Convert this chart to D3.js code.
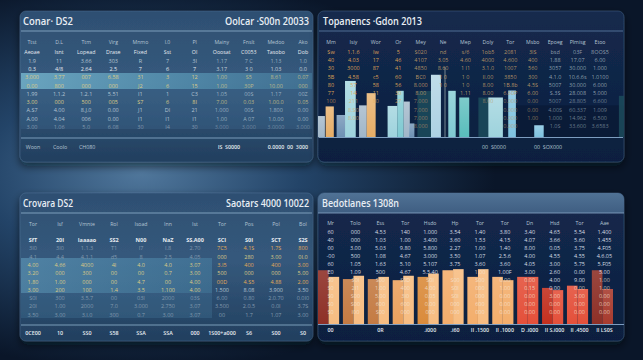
<!DOCTYPE html>
<html>
<head>
<meta charset="utf-8">
<script src="https://cdn.jsdelivr.net/npm/d3@7"></script>
<style>
  html, body { margin: 0; padding: 0; background: #0c1a30; }
  svg { display: block; }
</style>
</head>
<body>
<div id="chart"></div>
<script>
// Dashboard of four panels: two tables and two bar charts

const width = 643
const height = 360

// ---- panel 1 : table ----
const p1Title = 'Conar· DS2'
const p1Side = 'Oolcar ·S00n 20033'
const p1Head1 = ['Ttst', 'D.L', 'Ttm', 'Virg', 'Mnmo', 'l.0', 'Pl', 'Mainy', 'Fnslt', 'Medoo', 'Ako']
const p1Head2 = ['Aeoae', 'Isnt', 'Lopead', 'Drase', 'Fixed', 'Sst', 'Ol', 'Ooosat', 'C0053', 'Tasobo', 'Dob']
const p1Rows = [
  ['1.9', '11', '3.66', '303', 'R', '7', '3I', '1.17', '7 C', '1.13', '1.0'],
  ['0.3', '4/8', '2.64', '2.5', '7', '6', '7', '3.17', '3 0', '1.03', '0.0'],
  ['3.000', '3.77', '007', '6.58', '31', '3', '12', '1.00', 'S5', '8.61', '0.07'],
  ['0.00', '800', '000', '000', 'J2', '6', '15', '1.00', '30P', '10.00', '000'],
  ['1.99', '1.1.2', '1.2.1', '5.51', 'I1', '1', 'C3', '1.05', '00S', '1.17', '00Z'],
  ['3.00', '000', '500', '005', 'S7', '6', '8I', '7.00', '0.03', '1.00.0', '0.05'],
  ['A.S7', '4.00', '8.J.0', '0.00', 'J1', 'Dl', '21', '1.000', '00S', '1.800', '0.00'],
  ['A.00', '4.04', '006', '0.00', 'I1', 'I1', 'I1', '1.00', 'A 07', '1.0.00', '0.00'],
  ['3.00', '1.06', '5.0', '6.08', '30', 'I4', '30', '3.000', '3.000', '3.0000', '3.000']
]
const p1Tones = ['soft', 'bright', 'gold', 'gold', 'soft', 'gold', 'soft', 'soft', 'dim']
const p1FootLeft = ['Woon', 'Coolo', 'CH080']
const p1FootRight = ['lS  S0000', '0.0000  00  3000']

// ---- panel 2 : bars behind a table ----
const p2Title = 'Topanencs ·Gdon 2013'
const p2Head = ['Mm', 'Isiy', 'Wor', 'Or', 'Mey', 'Ne', 'Mep', 'Doly', 'Tor', 'Msbo', 'Epoeg', 'Plmisg', 'Etoo']
const p2Rows = [
  ['Sw', '1.1.6', 'Iw', '5', 'S020', 'nd', 's/6', '1ob5', '2081', '3IS', 'bsd', '03F', '8OOS5'],
  ['40', '4.03', '17', '46', '4107', '3.05', '4.60', '4000', '4.600', '400', '1.88', '17.07', '6.00'],
  ['30', '3000', '87', '41', '4850', '8.60', '1 l1', '3.1.0', '1007', '560', '3057', '30.000', '1.000'],
  ['5B', '4.58', 'c5', '60', 'BC0', '1 0', '1 0', 'II.00', '3850', '300', '4.1.0', '10.6.6s', '1.0100'],
  ['80', '57', '58', '56', '8.000', '1 0', '1 0', '8.00', '1B.8b', '4.5S', '5007', '30.000', '6.000'],
  ['77', '14', '11', '30', '8.00', '', '1.11', '8.00', '6.60P', '6.00', 'S.3S', '28.008', '5.000'],
  ['100', '211', '80', '27', '7.000', '', '', '8.00', '0.000', '0.00', '5007', '28.805', '6.600'],
  ['', '8.S0', '', '', '7.000', '', '', '', '0.000', '0.00', '4.00S', '60.337', '1.009'],
  ['', '8.00', '', '', '7.000', '', '', '', '0.000', '1.00', '1.000', '14.962', '6.500'],
  ['', '', '', '', '8.000', '', '', '', '0.000', '', '1.0S', '33.600', '3.6583']
]
const p2ColTones = ['orange', 'orange', 'orange', 'orange', 'amber', 'amber', 'amber', 'amber', 'amber', 'amber', 'grey', 'grey', 'grey']
// bars: span on a 0..120 track, value on 0..100
const p2Bars = [
  { from: 0, to: 2.7, value: 20, tone: 'mist' },
  { from: 3.0, to: 6.2, value: 29, tone: 'amber' },
  { from: 7.3, to: 10.6, value: 21, tone: 'steel' },
  { from: 10.6, to: 14.8, value: 53, tone: 'ice' },
  { from: 16.1, to: 19.1, value: 30, tone: 'mist' },
  { from: 19.1, to: 22.6, value: 41.5, tone: 'amber' },
  { from: 27.3, to: 31.1, value: 29.5, tone: 'ice' },
  { from: 31.1, to: 33.6, value: 43.7, tone: 'aqua' },
  { from: 33.6, to: 36.0, value: 33.6, tone: 'mist' },
  { from: 35.7, to: 37.8, value: 13, tone: 'steel' },
  { from: 39.0, to: 44.6, value: 43.7, tone: 'shade' },
  { from: 44.3, to: 48.2, value: 58.8, tone: 'frost' },
  { from: 49.5, to: 50.1, value: 66, tone: 'rod' },
  { from: 51.1, to: 54.0, value: 43.7, tone: 'aqua' },
  { from: 55.4, to: 59.3, value: 37.4, tone: 'teal' },
  { from: 62.9, to: 66.8, value: 37.4, tone: 'shade' },
  { from: 66.8, to: 72.5, value: 37.4, tone: 'ice' },
  { from: 74.6, to: 77.6, value: 44, tone: 'sky' },
  { from: 84.8, to: 88.5, value: 11.3, tone: 'sky' },
  { from: 118, to: 120, value: 39, tone: 'shade' }
]
const p2Foot = ['00  S0000', '00  SOX000']

// ---- panel 3 : table ----
const p3Title = 'Crovara DS2'
const p3Side = 'Saotars 4000 10022'
const p3Head = ['Tor', 'Isf', 'Vmnte', 'Rol', 'Isoad', 'Inn', 'Ist', 'Tor', 'Pos', 'Pol', 'Bol']
const p3Rows = [
  ['SfT', '20I', 'Iaaaao', 'SS2', 'N00', 'NaZ', 'SS.A00', 'SCI', 'S0I', 'SCT', 'S2S'],
  ['3I0', '3I0', '1.1.3', 'T1', 'I7', 'I.8', '2.70', '7C5', '4.1S', '1.7S', '800'],
  ['4.1', '4.4', '4.1.1', 'd5', '8', '2.5', '4.05', '000', '280', '3.00', '0I.0'],
  ['4.00', '4.66', '4000', '4I', '4.0', '4.0', '3.07', '3.I5', '400', '400', '3.00'],
  ['3.20', '000', '300', '00', '00', '0.7', '3.00', '500', '000', '000', '5.00'],
  ['1.80', '1.00', '000', '00', '4.7', '00', '4.00', '00D', '4.S5', '4.88', '2.00'],
  ['3.00', '200', '100', '1.4', '3.5', '1.100', '4.00', '1.500', '8.08', '3.900', '3.50'],
  ['S0I', '300', '3.5.7', '00', '03I', '2000', '03S', '6.00', '0.80', '2.0.70', '0.0I0'],
  ['20I', '1.00', '2000', '7.0', '3.000', '2.750', '3.07', '3.500', '2.0.5', '0.0I', '3.7S'],
  ['3.50', '3.00', '3.I.0', '300', '0.7', '3.00', '3.07', '00', '1.7', '1.07', '3.00']
]
const p3LeftTones = ['bright', 'dim', 'dim', 'gold', 'gold', 'gold', 'gold', 'dim', 'dim', 'dim']
const p3RightTones = ['bright', 'orange', 'gold', 'orange', 'gold', 'orange', 'soft', 'dim', 'dim', 'dim']
const p3Foot = ['0CE00', '10', 'SS0', 'S58', 'SSA', 'SSA', '000', '1S00+a000', 'S6', 'S00', 'S0']

// ---- panel 4 : grouped bars behind a table ----
const p4Title = 'Bedotlanes 1308n'
const p4Head = ['Mr', 'Tolo', 'Ess', 'Tor', 'Hsdo', 'Hp', 'Tor', 'Tor', 'Dn', 'Hsd', 'Tor', 'Aae']
const p4Rows = [
  ['60', '000', '4.53', '140', '1.000', '3.54', '1.40', '3.80', '3.40', '4.65', '5.54', '1.400'],
  ['40', '000', '1.03', '1.00', '3.400', '3.60', '1.53', '4.15', '4.07', '3.66', '5.60', '1.455'],
  ['00', '3.00', '5.03', '9.80', '5.800', '2.27', '1.00', '1.40', '8.00', '0.05', '3.75', '4.F05'],
  ['-00', '500', '1.08', '4.67', '3.000', '3.50', '1.07', '2.5.6', '4.00', '4.55', '4.55', '4.6.05'],
  ['60', '1.05', '1.63', '5.10', '5.107', '3.75', '3.60', '3.60', '4.05', '3.00', '5.75', '5.F05'],
  ['E0', '1.09', '500', '4.67', '5.5.40', '', '1.00', '1.00F', '3.00', '2.60', '0.00', '5.00'],
  ['S0', 'S0I', 'S00', 'S0D', 'S0I', 'S00', 'S00', '0.00', '0.00', '4.00', '9.00', '1.00'],
  ['S0', '2I1', '1.00', '400', '4.00', 'S0I', '000', '1.00', '0.15', '0.00', '0.00', '1.00'],
  ['S0', 'S00', '5.00', '3I0', '0.05', 'S0I', '000', '0.00', '0.00', '3.00', '3.00', '0.00'],
  ['S0', 'S00', '600', '600', '0.00', '000', '600', '0.00', '0.00', '0.00', '0.00', '0.00'],
  ['S0', 'I00', 'S00', '000', '000', '000', '000', '0.00', '0.00', '0.00', '0.00', '0.00']
]
const p4Foot = ['00', '', '0R', '', '.i000', '.i60', 'II .1500', 'II .1000', 'D .i000', 'II S.i000', 'II .4500', 'II LS0S']
const p4Left = [49, 41, 41, 40, 43, 49, 43, 43, 43, 33, 35, 49]
const p4Right = [43, 44, 43, 44, 46, 50, 50, 40, 43, 31, 32, 32]
const p4LeftTone = ['maroon', 'tan', 'tan', 'apricot', 'ochre', 'salmon', 'salmon', 'salmon', 'red', 'crimson', 'red', 'maroon']
const p4RightTone = ['peach', 'peach', 'peach', 'peach', 'peach', 'peach', 'peach', 'salmon', 'red', 'red', 'red', 'brick']

// colours
const textColors = {
  bright: '#e6ebf0', soft: '#b4c4d3', gold: '#dccb86', dim: '#8299ae',
  orange: '#e2ab58', amber: '#bf9a68', grey: '#98a7b6', over: '#f4e8dc'
}
const barColors = {
  mist: '#a9bfd0', amber: '#f2b568', steel: '#7398ba', ice: '#a6dde6', aqua: '#86d4da',
  teal: '#5ec6c3', shade: '#1c4b5c', frost: '#b6dcec', sky: '#85cbe9', rod: '#56687a',
  maroon: '#8e3027', peach: '#f7bd82', tan: '#c47b43', apricot: '#eaa25f', ochre: '#da8b3b',
  salmon: '#f3ae6c', red: '#e4503a', crimson: '#c3301f', brick: '#a73b2e'
}

const svg = d3.select('#chart')
  .append('svg')
  .attr('width', width)
  .attr('height', height)
  .style('font-family', '"Open Sans", "DejaVu Sans", sans-serif')

const defs = svg.append('defs')

// background
const bgGlow = defs.append('radialGradient').attr('id', 'glow')
  .attr('cx', 0.22).attr('cy', 0.48).attr('r', 0.55)
bgGlow.append('stop').attr('offset', '0%').attr('stop-color', '#50779c')
bgGlow.append('stop').attr('offset', '45%').attr('stop-color', '#234468')
bgGlow.append('stop').attr('offset', '100%').attr('stop-color', '#0a1629')

svg.append('rect').attr('width', width).attr('height', height).attr('fill', 'url(#glow)')

const shadow = defs.append('filter').attr('id', 'shadow')
  .attr('x', -0.1).attr('y', -0.1).attr('width', 1.2).attr('height', 1.3)
shadow.append('feDropShadow').attr('dx', 0).attr('dy', 4).attr('stdDeviation', 4)
  .attr('flood-color', '#020712').attr('flood-opacity', 0.6)

function vGrad(id, stops) {
  const g = defs.append('linearGradient').attr('id', id)
    .attr('x1', 0).attr('x2', 0).attr('y1', 0).attr('y2', 1)
  stops.forEach(s => g.append('stop').attr('offset', s[0]).attr('stop-color', s[1]).attr('stop-opacity', s[2] == null ? 1 : s[2]))
}
function hGrad(id, stops) {
  const g = defs.append('linearGradient').attr('id', id)
    .attr('x1', 0).attr('x2', 1).attr('y1', 0).attr('y2', 0)
  stops.forEach(s => g.append('stop').attr('offset', s[0]).attr('stop-color', s[1]).attr('stop-opacity', s[2] == null ? 1 : s[2]))
}

vGrad('lightPanel', [['0%', '#2e4f72'], ['45%', '#35597c'], ['100%', '#223f5f']])
vGrad('darkPanel', [['0%', '#142a4d'], ['100%', '#0c1f3f']])
vGrad('p4Header', [['0%', '#507295'], ['100%', '#3f5e82']])
hGrad('band', [['0%', '#77b8d0', 0.8], ['60%', '#5c9dbb', 0.65], ['100%', '#4d88a8', 0.5]])
hGrad('band3', [['0%', '#5a93b4', 0.7], ['100%', '#4b86a9', 0.5]])
vGrad('barSheen', [['0%', '#ffffff', 0.22], ['100%', '#ffffff', 0]])

function panel(x, y, w, h, fill) {
  const g = svg.append('g')
  g.append('rect').attr('x', x).attr('y', y).attr('width', w).attr('height', h)
    .attr('rx', 6).attr('fill', fill).attr('filter', 'url(#shadow)')
    .attr('stroke', '#5b7ea3').attr('stroke-opacity', 0.35)
  return g
}

// titles squeezed to the width they take in the picture
function titleText(g, x, y, txt, len, anchor) {
  g.append('text').attr('x', x).attr('y', y).attr('text-anchor', anchor || 'start')
    .attr('font-size', 11).attr('font-weight', 600).attr('fill', '#e9eef4')
    .attr('textLength', len).attr('lengthAdjust', 'spacingAndGlyphs')
    .text(txt)
}

function cellText(g, x, y, txt, color, size, weight, opacity) {
  g.append('text').attr('x', x).attr('y', y).attr('text-anchor', 'middle')
    .attr('font-size', size || 5.5).attr('font-weight', weight || 500)
    .attr('fill', color).attr('fill-opacity', opacity == null ? 1 : opacity)
    .text(txt)
}

// ================= panel 1 =================
const g1 = panel(20, 11, 293, 151, 'url(#lightPanel)')
g1.append('rect').attr('x', 21).attr('y', 73).attr('width', 291).attr('height', 16).attr('fill', 'url(#band)')
g1.append('rect').attr('x', 21).attr('y', 89).attr('width', 291).attr('height', 40).attr('fill', '#4878a0').attr('opacity', 0.25)
g1.append('line').attr('x1', 21).attr('x2', 312).attr('y1', 31).attr('y2', 31).attr('stroke', '#8fb2cf').attr('stroke-width', 0.8)
g1.append('line').attr('x1', 21).attr('x2', 312).attr('y1', 138).attr('y2', 138).attr('stroke', '#8fb2cf').attr('stroke-width', 0.8)
titleText(g1, 23, 25, p1Title, 50)
titleText(g1, 309, 25, p1Side, 84, 'end')

const x1 = d3.scalePoint().domain(d3.range(p1Head1.length)).range([32, 303])
const y1 = d3.scaleLinear().domain([0, p1Rows.length - 1]).range([62.8, 128.8])
p1Head1.forEach((t, i) => cellText(g1, x1(i), 44.3, t, textColors.soft, 5.2, 400))
p1Head2.forEach((t, i) => cellText(g1, x1(i), 54.3, t, textColors.bright, 5.3, 500))
p1Rows.forEach((row, r) => row.forEach((t, i) =>
  cellText(g1, x1(i), y1(r), t, textColors[p1Tones[r]], 5.5, 500, i > 6 ? 0.8 : 1)))
p1FootLeft.forEach((t, i) => cellText(g1, x1(i) + 1, 148.5, t, textColors.soft, 5.3, 400))
g1.append('text').attr('x', 229).attr('y', 148.5).attr('text-anchor', 'middle').attr('font-size', 5.3)
  .attr('font-weight', 600).attr('fill', textColors.bright).attr('xml:space', 'preserve').text(p1FootRight[0])
g1.append('text').attr('x', 308).attr('y', 148.5).attr('text-anchor', 'end').attr('font-size', 5.3)
  .attr('font-weight', 600).attr('fill', textColors.bright).attr('xml:space', 'preserve').text(p1FootRight[1])

// ================= panel 2 =================
const g2 = panel(318, 11, 306, 151, 'url(#darkPanel)')
g2.append('line').attr('x1', 319).attr('x2', 623).attr('y1', 31).attr('y2', 31).attr('stroke', '#5f82a8').attr('stroke-width', 0.8)
titleText(g2, 323, 25, p2Title, 99)

const x2 = d3.scaleLinear().domain([0, 120]).range([318, 624])
const y2 = d3.scaleLinear().domain([0, 100]).range([137.3, 31])

g2.append('rect').attr('x', x2(77)).attr('y', y2(30)).attr('width', x2(120) - x2(77))
  .attr('height', y2(0) - y2(30)).attr('fill', '#06142b').attr('opacity', 0.45)

g2.selectAll('.bar2').data(p2Bars).enter().append('rect')
  .attr('class', 'bar2')
  .attr('x', d => x2(d.from))
  .attr('y', d => y2(d.value))
  .attr('width', d => x2(d.to) - x2(d.from))
  .attr('height', d => y2(0) - y2(d.value))
  .attr('fill', d => barColors[d.tone])
  .attr('opacity', d => d.tone === 'shade' ? 0.85 : 0.95)
g2.selectAll('.sheen2').data(p2Bars.filter(d => d.tone !== 'shade' && d.tone !== 'rod')).enter().append('rect')
  .attr('x', d => x2(d.from))
  .attr('y', d => y2(d.value))
  .attr('width', d => x2(d.to) - x2(d.from))
  .attr('height', d => y2(0) - y2(d.value))
  .attr('fill', 'url(#barSheen)')

const c2 = d3.scalePoint().domain(d3.range(p2Head.length)).range([331, 600])
const r2 = d3.scaleLinear().domain([0, p2Rows.length - 1]).range([53.7, 128.3])
p2Head.forEach((t, i) => cellText(g2, c2(i), 44.3, t, textColors.soft, 5.2, 400))
p2Rows.forEach((row, r) => row.forEach((t, i) =>
  cellText(g2, c2(i), r2(r), t, textColors[p2ColTones[i]], 5.5, 500, r > 5 ? 0.7 : 0.95)))

g2.append('line').attr('x1', 319).attr('x2', 623).attr('y1', 137.5).attr('y2', 137.5).attr('stroke', '#7d9dc0').attr('stroke-width', 1)
g2.append('text').attr('x', 494).attr('y', 148.5).attr('text-anchor', 'middle').attr('font-size', 5.3)
  .attr('font-weight', 500).attr('fill', textColors.soft).attr('xml:space', 'preserve').text(p2Foot[0])
g2.append('text').attr('x', 548).attr('y', 148.5).attr('text-anchor', 'middle').attr('font-size', 5.3)
  .attr('font-weight', 500).attr('fill', textColors.soft).attr('xml:space', 'preserve').text(p2Foot[1])

// ================= panel 3 =================
const g3 = panel(20, 193, 293, 148, 'url(#lightPanel)')
g3.append('rect').attr('x', 21).attr('y', 258).attr('width', 191).attr('height', 35).attr('fill', 'url(#band3)')
g3.append('rect').attr('x', 21).attr('y', 293).attr('width', 191).attr('height', 25).attr('fill', '#4a7ea3').attr('opacity', 0.3)
g3.append('line').attr('x1', 21).attr('x2', 312).attr('y1', 213).attr('y2', 213).attr('stroke', '#8fb2cf').attr('stroke-width', 0.8)
g3.append('line').attr('x1', 21).attr('x2', 312).attr('y1', 325).attr('y2', 325).attr('stroke', '#8fb2cf').attr('stroke-width', 0.8)
titleText(g3, 23, 206.5, p3Title, 50)
titleText(g3, 309, 206.5, p3Side, 83, 'end')

const x3 = d3.scalePoint().domain(d3.range(p3Head.length)).range([33, 303])
const y3 = d3.scaleLinear().domain([0, p3Rows.length - 1]).range([242, 316.7])
p3Head.forEach((t, i) => cellText(g3, x3(i), 225.7, t, textColors.soft, 5.2, 400))
p3Rows.forEach((row, r) => row.forEach((t, i) => {
  const tone = i >= 7 ? p3RightTones[r] : p3LeftTones[r]
  cellText(g3, x3(i), y3(r), t, textColors[tone], 5.5, r === 0 ? 700 : 500)
}))
p3Foot.forEach((t, i) => cellText(g3, x3(i), 334.5, t, textColors.bright, 5.4, 600))

// ================= panel 4 =================
const g4 = panel(318, 193, 306, 148, 'url(#darkPanel)')
g4.append('path')
  .attr('d', 'M318,213 V199 a6,6 0 0 1 6,-6 H618 a6,6 0 0 1 6,6 V213 Z')
  .attr('fill', 'url(#p4Header)')
g4.append('line').attr('x1', 318).attr('x2', 624).attr('y1', 213).attr('y2', 213).attr('stroke', '#8aa8c8').attr('stroke-width', 0.8)
titleText(g4, 322, 206.5, p4Title, 77)

const groups = d3.range(p4Left.length)
const gx = d3.scaleBand().domain(groups).range([318, 613]).paddingInner(0.15).paddingOuter(0)
const sub = d3.scaleBand().domain(['left', 'right']).range([0, gx.bandwidth()])
const y4 = d3.scaleLinear().domain([0, 100]).range([324.3, 214])

const bars4 = []
groups.forEach(i => {
  bars4.push({ g: i, side: 'left', value: p4Left[i], tone: p4LeftTone[i] })
  bars4.push({ g: i, side: 'right', value: p4Right[i], tone: p4RightTone[i] })
})
g4.selectAll('.bar4').data(bars4).enter().append('rect')
  .attr('class', 'bar4')
  .attr('x', d => gx(d.g) + sub(d.side))
  .attr('y', d => y4(d.value))
  .attr('width', sub.bandwidth())
  .attr('height', d => y4(0) - y4(d.value))
  .attr('fill', d => barColors[d.tone])
g4.selectAll('.sheen4').data(bars4).enter().append('rect')
  .attr('x', d => gx(d.g) + sub(d.side))
  .attr('y', d => y4(d.value))
  .attr('width', sub.bandwidth())
  .attr('height', d => y4(0) - y4(d.value))
  .attr('fill', 'url(#barSheen)').attr('opacity', 0.5)

const c4 = i => gx(i) + gx.bandwidth() / 2 + 2
const r4 = d3.scaleLinear().domain([0, p4Rows.length - 1]).range([233.7, 314.3])
p4Head.forEach((t, i) => cellText(g4, c4(i), 225, t, textColors.soft, 5.2, 400))
p4Rows.forEach((row, r) => row.forEach((t, i) => {
  const over = r4(r) > y4(Math.max(p4Left[i], p4Right[i])) + 4
  cellText(g4, c4(i), r4(r), t, over ? textColors.over : '#d6dce4', 5.5, 500, over ? 0.75 : 1)
}))
g4.append('line').attr('x1', 318).attr('x2', 624).attr('y1', 324.5).attr('y2', 324.5).attr('stroke', '#7d9dc0').attr('stroke-width', 1)
p4Foot.forEach((t, i) => cellText(g4, c4(i), 331.5, t, textColors.bright, 5.3, 600))
</script>
</body>
</html>
